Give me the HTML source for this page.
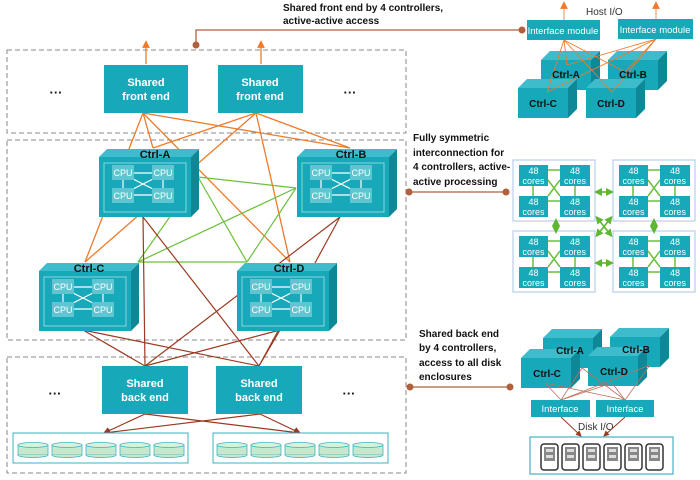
<!DOCTYPE html>
<html><head><meta charset="utf-8"><style>
html,body{margin:0;padding:0;background:#fff;}
svg{display:block;font-family:"Liberation Sans",Arial,sans-serif;}
</style></head><body>
<svg width="700" height="480" viewBox="0 0 700 480" xmlns="http://www.w3.org/2000/svg">
<defs>
<marker id="ao" markerWidth="6" markerHeight="6" refX="3" refY="3" orient="auto"><path d="M0,0 L6,3 L0,6 z" fill="#ee7a2a"/></marker>
<marker id="ab" markerWidth="6" markerHeight="6" refX="5" refY="3" orient="auto"><path d="M0,0 L6,3 L0,6 z" fill="#9b3a22"/></marker>
<marker id="ag" markerWidth="5" markerHeight="5" refX="2.5" refY="2.5" orient="auto-start-reverse"><path d="M0,0 L5,2.5 L0,5 z" fill="#5fb630"/></marker>
<g id="cpuc">
 <polygon points="0,8 8,0 100,0 92,8" fill="#3fbccb"/>
 <polygon points="92,8 100,0 100,60 92,68" fill="#0e8796"/>
 <rect x="0" y="8" width="92" height="60" fill="#17a8b9"/>
 <rect x="5" y="14" width="82" height="49" fill="none" stroke="#8ad6df" stroke-width="1"/>
 <g stroke="#fff" stroke-width="1.2">
  <line x1="34" y1="24" x2="54" y2="24"/><line x1="34" y1="46" x2="54" y2="46"/>
  <line x1="24" y1="31" x2="24" y2="40"/><line x1="64" y1="31" x2="64" y2="40"/>
  <line x1="34" y1="30" x2="54" y2="40"/><line x1="34" y1="40" x2="54" y2="30"/>
 </g>
 <g fill="#5fc5d0"><rect x="13" y="16" width="22" height="15"/><rect x="53" y="16" width="22" height="15"/><rect x="13" y="39" width="22" height="15"/><rect x="53" y="39" width="22" height="15"/></g>
 <g fill="#fff" font-size="9" text-anchor="middle"><text x="24" y="27">CPU</text><text x="64" y="27">CPU</text><text x="24" y="50">CPU</text><text x="64" y="50">CPU</text></g>
</g>
<g id="scube">
 <polygon points="0,9 9,0 59,0 50,9" fill="#3fbccb"/>
 <polygon points="50,9 59,0 59,30 50,39" fill="#0e8796"/>
 <rect x="0" y="9" width="50" height="30" fill="#17a8b9"/>
</g>
<g id="panel">
 <rect x="0" y="0" width="82" height="61" fill="#fff" stroke="#a9c4e8" stroke-width="1"/>
 <g stroke="#6cbf3a" stroke-width="1.5">
  <line x1="35" y1="10" x2="47" y2="10"/><line x1="35" y1="41" x2="47" y2="41"/>
  <line x1="20" y1="26" x2="20" y2="36"/><line x1="62" y1="26" x2="62" y2="36"/>
  <line x1="35" y1="20" x2="47" y2="36"/><line x1="35" y1="36" x2="47" y2="20"/>
 </g>
 <g fill="#17a8b9"><rect x="6" y="5" width="29" height="21"/><rect x="47" y="5" width="30" height="21"/><rect x="6" y="36" width="29" height="21"/><rect x="47" y="36" width="30" height="21"/></g>
 <g fill="#fff" font-size="9" text-anchor="middle">
  <text x="20.5" y="14">48</text><text x="20.5" y="24">cores</text><text x="62" y="14">48</text><text x="62" y="24">cores</text>
  <text x="20.5" y="45">48</text><text x="20.5" y="55">cores</text><text x="62" y="45">48</text><text x="62" y="55">cores</text>
 </g>
</g>
<g id="disk">
 <rect x="0" y="4" width="30" height="10" fill="#c7e8cf" stroke="#3fb3c1" stroke-width="0.8"/>
 <ellipse cx="15" cy="4" rx="15" ry="2.5" fill="#d9f0de" stroke="#3fb3c1" stroke-width="0.8"/>
 <path d="M0,14 A15,2.5 0 0 0 30,14" fill="#c7e8cf" stroke="#3fb3c1" stroke-width="0.8"/>
</g>
<g id="hdd">
 <rect x="0" y="0" width="17" height="26" rx="3" fill="#fff" stroke="#333" stroke-width="1.5"/>
 <rect x="3" y="3" width="11" height="14" fill="#888"/>
 <rect x="5" y="5" width="7" height="3" fill="#ddd"/>
 <rect x="5" y="11" width="7" height="3" fill="#ddd"/>
</g>
</defs>

<g fill="none" stroke="#888" stroke-dasharray="5,3" stroke-width="1">
 <rect x="7" y="50" width="399" height="83"/>
 <rect x="7" y="140" width="399" height="200"/>
 <rect x="7" y="357" width="399" height="116"/>
</g>

<g stroke="#ee7a2a" stroke-width="1.3">
 <line x1="143" y1="113" x2="153" y2="148"/><line x1="143" y1="113" x2="350" y2="148"/>
 <line x1="143" y1="113" x2="85" y2="262"/><line x1="143" y1="113" x2="290" y2="262"/>
 <line x1="256" y1="113" x2="153" y2="148"/><line x1="256" y1="113" x2="350" y2="148"/>
 <line x1="256" y1="113" x2="85" y2="262"/><line x1="256" y1="113" x2="290" y2="262"/>
 <line x1="146" y1="64" x2="146" y2="44" marker-end="url(#ao)"/>
 <line x1="261" y1="64" x2="261" y2="44" marker-end="url(#ao)"/>
</g>
<g stroke="#6cbf3a" stroke-width="1.2">
 <line x1="198" y1="177" x2="296" y2="188"/>
 <line x1="198" y1="177" x2="247" y2="262"/>
 <line x1="198" y1="177" x2="138" y2="262"/>
 <line x1="296" y1="188" x2="138" y2="262"/>
 <line x1="296" y1="188" x2="247" y2="262"/>
 <line x1="138" y1="262" x2="247" y2="262"/>
</g>
<g stroke="#9b3a22" stroke-width="1.2">
 <line x1="143" y1="217" x2="145" y2="366"/><line x1="143" y1="217" x2="259" y2="366"/>
 <line x1="340" y1="217" x2="145" y2="366"/><line x1="340" y1="217" x2="259" y2="366"/>
 <line x1="83" y1="330" x2="145" y2="366"/><line x1="83" y1="330" x2="259" y2="366"/>
 <line x1="280" y1="330" x2="145" y2="366"/><line x1="280" y1="330" x2="259" y2="366"/>
 <line x1="145" y1="414" x2="104" y2="433" marker-end="url(#ab)"/>
 <line x1="145" y1="414" x2="300" y2="433" marker-end="url(#ab)"/>
 <line x1="260" y1="414" x2="104" y2="433" marker-end="url(#ab)"/>
 <line x1="260" y1="414" x2="300" y2="433" marker-end="url(#ab)"/>
</g>

<rect x="104" y="65" width="84" height="48" fill="#17a8b9"/>
<rect x="218" y="65" width="85" height="48" fill="#17a8b9"/>
<rect x="102" y="366" width="86" height="48" fill="#17a8b9"/>
<rect x="216" y="366" width="86" height="48" fill="#17a8b9"/>
<g fill="#fff" font-size="11" font-weight="bold" text-anchor="middle">
 <text x="146" y="86">Shared</text><text x="146" y="100">front end</text>
 <text x="260" y="86">Shared</text><text x="260" y="100">front end</text>
 <text x="145" y="387">Shared</text><text x="145" y="401">back end</text>
 <text x="259" y="387">Shared</text><text x="259" y="401">back end</text>
</g>
<g font-size="13" font-weight="bold" fill="#111" text-anchor="middle">
 <text x="56" y="97">···</text><text x="350" y="97">···</text>
 <text x="55" y="398">···</text><text x="349" y="398">···</text>
</g>

<use href="#cpuc" x="99" y="149"/>
<use href="#cpuc" x="297" y="149"/>
<use href="#cpuc" x="39" y="263"/>
<use href="#cpuc" x="237" y="263"/>
<g font-size="11" font-weight="bold" fill="#111" text-anchor="middle">
 <text x="155" y="158">Ctrl-A</text><text x="351" y="158">Ctrl-B</text>
 <text x="89" y="272">Ctrl-C</text><text x="289" y="272">Ctrl-D</text>
</g>

<rect x="13" y="433" width="175" height="30" fill="#fff" stroke="#3fb3c1" stroke-width="1"/>
<rect x="213" y="433" width="175" height="30" fill="#fff" stroke="#3fb3c1" stroke-width="1"/>
<use href="#disk" x="18" y="441"/><use href="#disk" x="52" y="441"/><use href="#disk" x="86" y="441"/><use href="#disk" x="120" y="441"/><use href="#disk" x="154" y="441"/>
<use href="#disk" x="217" y="441"/><use href="#disk" x="251" y="441"/><use href="#disk" x="285" y="441"/><use href="#disk" x="319" y="441"/><use href="#disk" x="353" y="441"/>

<g stroke="#b0603d" stroke-width="1.3" fill="none">
 <polyline points="196,45 196,30 522,30"/>
 <line x1="408" y1="192" x2="506" y2="192"/>
 <line x1="410" y1="387" x2="510" y2="387"/>
</g>
<g fill="#b0603d">
 <circle cx="196" cy="45" r="3.5"/><circle cx="522" cy="30" r="3.5"/>
 <circle cx="409" cy="192" r="3.5"/><circle cx="506" cy="192" r="3.5"/>
 <circle cx="410" cy="387" r="3.5"/><circle cx="510" cy="387" r="3.5"/>
</g>
<g font-size="10" font-weight="bold" fill="#111">
 <text x="283" y="11">Shared front end by 4 controllers,</text>
 <text x="283" y="24">active-active access</text>
 <text x="413" y="141">Fully symmetric</text>
 <text x="413" y="156">interconnection for</text>
 <text x="413" y="170">4 controllers, active-</text>
 <text x="413" y="185">active processing</text>
 <text x="419" y="337">Shared back end</text>
 <text x="419" y="351">by 4 controllers,</text>
 <text x="419" y="366">access to all disk</text>
 <text x="419" y="380">enclosures</text>
</g>

<text x="586" y="15" font-size="10" fill="#333">Host I/O</text>
<g stroke="#f5a87a" stroke-width="1.3">
 <line x1="564" y1="20" x2="564" y2="5" marker-end="url(#ao)"/>
 <line x1="656" y1="19" x2="656" y2="5" marker-end="url(#ao)"/>
</g>
<use href="#scube" x="541" y="51"/>
<use href="#scube" x="608" y="51"/>
<use href="#scube" x="518" y="79"/>
<use href="#scube" x="586" y="79"/>
<g stroke="#ee7a2a" stroke-width="0.9">
 <line x1="564" y1="40" x2="567" y2="65"/><line x1="564" y1="40" x2="625" y2="72"/>
 <line x1="564" y1="40" x2="547" y2="92"/><line x1="564" y1="40" x2="612" y2="92"/>
 <line x1="656" y1="39" x2="567" y2="65"/><line x1="656" y1="39" x2="625" y2="72"/>
 <line x1="656" y1="39" x2="547" y2="92"/><line x1="656" y1="39" x2="612" y2="92"/>
</g>
<rect x="527" y="20" width="73" height="20" fill="#17a8b9"/>
<rect x="618" y="19" width="75" height="20" fill="#17a8b9"/>
<g fill="#fff" font-size="9.5" text-anchor="middle"><text x="563" y="34">Interface module</text><text x="655" y="33">Interface module</text></g>
<g font-size="10" font-weight="bold" fill="#111" text-anchor="middle">
 <text x="566" y="78">Ctrl-A</text><text x="633" y="78">Ctrl-B</text>
 <text x="543" y="107">Ctrl-C</text><text x="611" y="107">Ctrl-D</text>
</g>

<use href="#panel" x="513" y="160"/>
<use href="#panel" x="613" y="160"/>
<use href="#panel" x="513" y="231"/>
<use href="#panel" x="613" y="231"/>
<g stroke="#5fb630" stroke-width="1.6" marker-start="url(#ag)" marker-end="url(#ag)">
 <line x1="598" y1="192" x2="610" y2="192"/>
 <line x1="598" y1="263" x2="610" y2="263"/>
 <line x1="556" y1="222" x2="556" y2="230"/>
 <line x1="654" y1="222" x2="654" y2="230"/>
 <line x1="598" y1="219" x2="610" y2="234"/>
 <line x1="598" y1="234" x2="610" y2="219"/>
</g>

<use href="#scube" x="543" y="329"/>
<use href="#scube" x="610" y="328"/>
<use href="#scube" x="521" y="349"/>
<use href="#scube" x="588" y="347"/>
<g stroke="#c0705a" stroke-width="0.8">
 <line x1="561" y1="400" x2="545" y2="383"/><line x1="561" y1="400" x2="612" y2="383"/>
 <line x1="561" y1="400" x2="582" y2="368"/><line x1="561" y1="400" x2="650" y2="365"/>
 <line x1="625" y1="400" x2="545" y2="383"/><line x1="625" y1="400" x2="612" y2="383"/>
 <line x1="625" y1="400" x2="582" y2="368"/><line x1="625" y1="400" x2="650" y2="365"/>
</g>
<g font-size="10" font-weight="bold" fill="#111" text-anchor="middle">
 <text x="570" y="354">Ctrl-A</text><text x="636" y="353">Ctrl-B</text>
 <text x="547" y="377">Ctrl-C</text><text x="614" y="375">Ctrl-D</text>
</g>
<rect x="531" y="400" width="59" height="17" fill="#17a8b9"/>
<rect x="596" y="400" width="58" height="17" fill="#17a8b9"/>
<g fill="#fff" font-size="9.5" text-anchor="middle"><text x="560" y="412">Interface</text><text x="625" y="412">Interface</text></g>
<text x="578" y="430" font-size="10" fill="#333">Disk I/O</text>
<g stroke="#9b3a22" stroke-width="1">
 <line x1="561" y1="417" x2="581" y2="436" marker-end="url(#ab)"/>
 <line x1="625" y1="417" x2="604" y2="436" marker-end="url(#ab)"/>
</g>
<rect x="530" y="437" width="143" height="37" fill="#fff" stroke="#3fb3c1" stroke-width="1.2"/>
<use href="#hdd" x="541" y="444"/><use href="#hdd" x="562" y="444"/><use href="#hdd" x="583" y="444"/>
<use href="#hdd" x="604" y="444"/><use href="#hdd" x="625" y="444"/><use href="#hdd" x="646" y="444"/>
</svg>
</body></html>
